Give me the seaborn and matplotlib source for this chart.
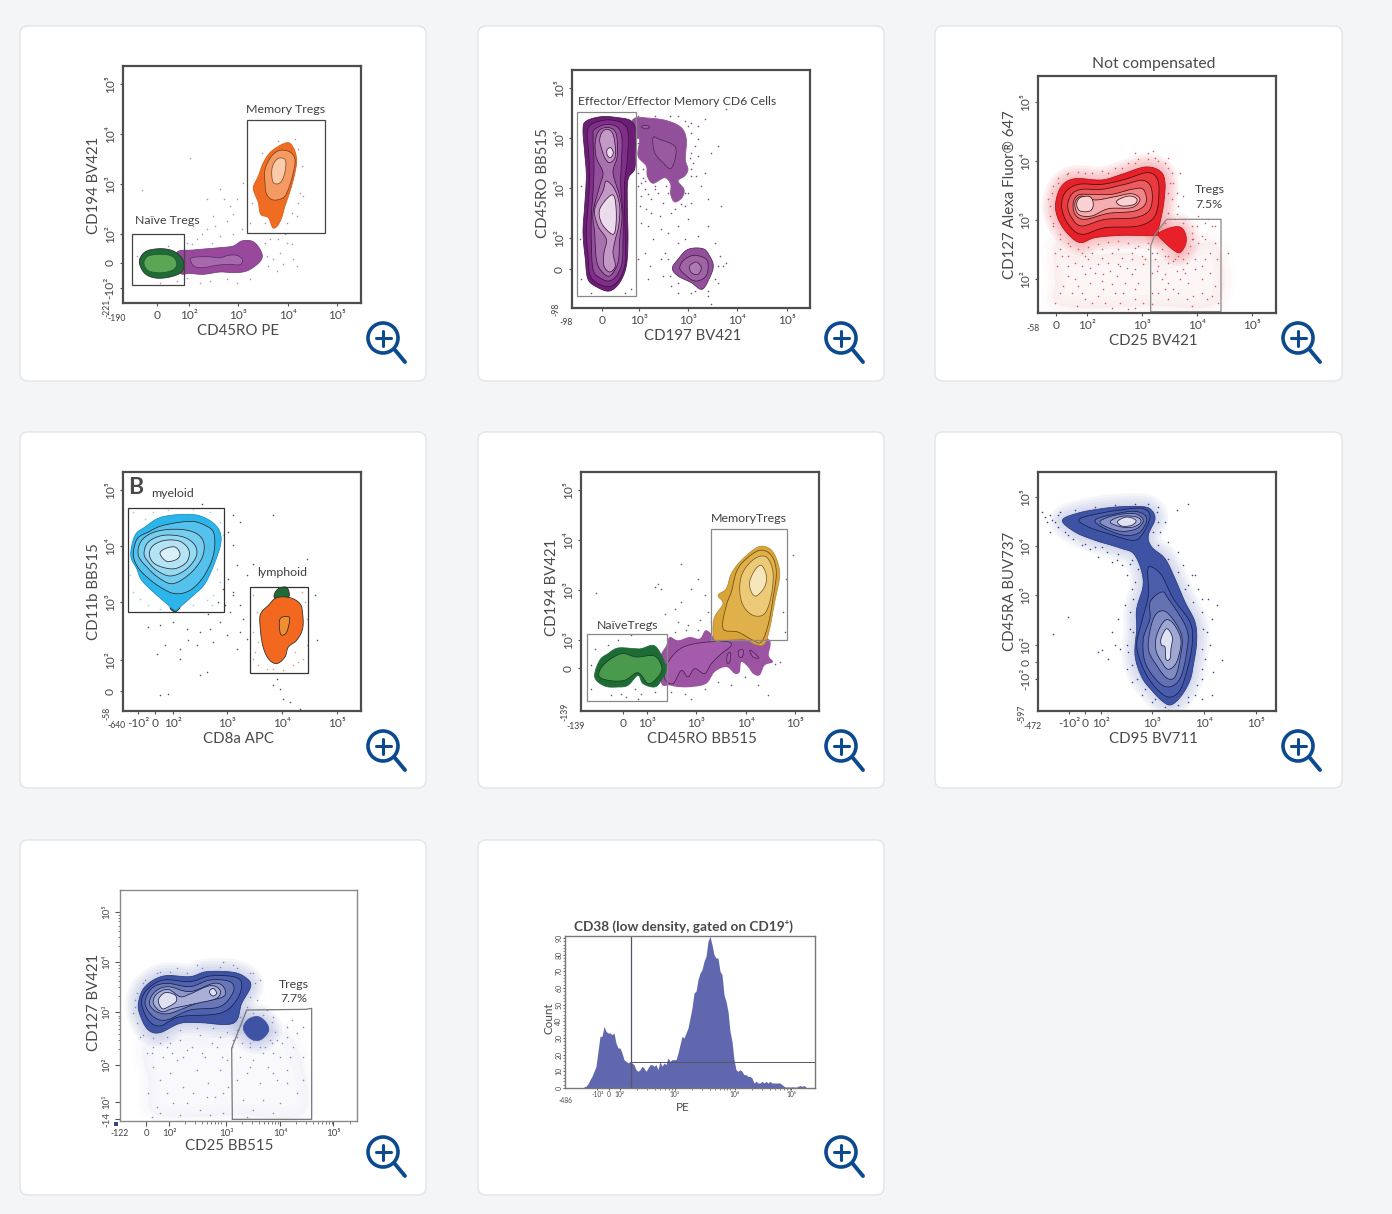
import numpy as np
import pandas as pd
import matplotlib
matplotlib.use('Agg')
import matplotlib.pyplot as plt
from matplotlib.patches import FancyBboxPatch, Circle, Rectangle
import seaborn as sns

# all outlines and dots are in display channels (y runs downwards)

# panel 1
p1_xticks = [411, 508, 655, 803, 951]
p1_xlabels = ['0', '10²', '10³', '10⁴', '10⁵']
p1_yticks = [175, 325, 475, 625, 710, 787]
p1_ylabels = ['10⁵', '10⁴', '10³', '10²', '0', '-10²']
p1_purple_out = [(470,680),(520,672),(600,665),(640,660),(665,645),(695,645),(715,662),(727,690),(715,712),(680,735),(640,740),(600,738),(550,745),(510,742),(480,740)]
p1_purple_in = [(515,695),(560,692),(600,695),(625,688),(650,688),(667,700),(660,716),(625,715),(590,718),(550,725),(525,722),(513,708)]
p1_green_out = [(358,710),(365,688),(385,673),(425,668),(460,675),(485,695),(492,720),(480,742),(440,755),(400,755),(372,740)]
p1_green_in = [(372,708),(385,690),(420,685),(455,690),(470,710),(462,730),(430,740),(395,738),(378,728)]
p1_orange_out = [(700,483),(715,450),(730,410),(755,375),(800,350),(820,365),(830,400),(825,440),(812,490),(795,540),(785,575),(772,600),(758,605),(745,575),(722,565),(715,530),(705,505)]
p1_orange_mid = [(735,470),(735,430),(755,390),(780,373),(810,378),(825,400),(820,440),(805,490),(790,515),(760,522),(740,505)]
p1_orange_in = [(755,440),(760,415),(775,397),(795,400),(797,425),(790,455),(778,472),(760,470)]
p1_dots = [(510,395),(365,493),(600,490),(612,520),(630,540),(640,565),(620,585),(585,600),(560,610),(545,625),(530,640),(600,630),(640,625),(665,610),(580,570),(650,520),(670,470),(560,520),(520,600),(500,650),
           (740,690),(760,700),(780,680),(800,650),(815,655),(820,700),(830,720),(745,720),(770,735),(790,715),(735,650),(750,640),(775,640),(795,625),(690,760),(650,770),(620,760),(570,765),(540,770),(500,755),
           (835,370),(845,420),(840,500),(825,340),(835,530),(815,560),(800,590),(695,530),(690,590),(735,590),(725,380),(775,345),(850,510),(830,570),(445,660),(420,770),(470,765),(350,690),(515,655),(575,650)]

# panel 2
p2_xticks = [373, 482, 630, 778, 926]
p2_xlabels = ['0', '10³', '10³', '10⁴', '10⁵']
p2_yticks = [185, 335, 485, 635, 730]
p2_ylabels = ['10⁵', '10⁴', '10³', '10²', '0']
p2_l1 = [(315,310),(325,285),(370,272),(420,275),(460,285),(475,320),(472,380),(470,430),(450,460),(448,540),(450,640),(445,720),(425,770),(395,795),(360,785),(330,760),(322,700),(315,620),(320,540),(325,450),(320,380)]
p2_l2 = [(328,320),(340,295),(385,282),(430,290),(450,320),(448,400),(440,470),(440,560),(442,660),(440,720),(420,765),(392,782),(355,770),(335,745),(330,690),(325,620),(330,540),(335,450),(332,380)]
p2_l3 = [(345,330),(350,310),(385,295),(420,305),(432,340),(430,410),(428,480),(435,560),(435,640),(432,710),(415,750),(392,765),(365,755),(345,730),(340,650),(340,570),(345,500),(348,420)]
p2_l4 = [(352,345),(365,312),(395,305),(415,325),(418,390),(405,440),(425,510),(432,570),(425,640),(420,710),(395,750),(370,735),(355,700),(350,620),(345,560),(365,480),(375,440),(355,395)]
p2_l5a = [(365,340),(375,315),(395,312),(408,335),(412,390),(395,410),(380,395),(370,365)]
p2_l5b = [(385,465),(410,490),(425,540),(422,600),(412,640),(405,680),(412,720),(395,738),(378,720),(378,680),(385,640),(360,600),(350,550),(375,495)]
p2_l6a = [(395,510),(410,515),(415,570),(410,620),(395,620),(370,590),(365,550)]
p2_l6b = [(387,372),(398,365),(406,380),(398,395),(388,388)]
p2_right = [(465,280),(520,277),(570,285),(610,305),(625,340),(622,400),(630,430),(620,450),(600,465),(618,490),(612,515),(590,528),(578,505),(578,475),(560,455),(525,472),(508,450),(505,420),(480,390),(485,340),(470,335)]
p2_right_in = [(525,335),(545,340),(590,360),(592,395),(578,428),(555,410),(530,380)]
p2_right_tiny = [(490,302),(503,298),(515,303),(503,309)]
p2_low_out = [(583,727),(600,700),(630,670),(675,668),(695,690),(706,720),(695,755),(672,790),(640,770),(600,750)]
p2_low_mid = [(605,725),(620,700),(650,688),(685,700),(690,730),(680,755),(650,765),(620,745)]
p2_low_in = [(635,720),(655,708),(670,725),(660,745),(640,740)]
p2_dots = [(600,270),(640,290),(660,300),(680,280),(745,250),(640,320),(650,360),(660,390),(645,410),(640,450),(655,450),(680,440),(670,480),(630,500),(640,530),(700,380),(720,360),(690,520),(730,540),
           (500,490),(520,520),(505,550),(490,510),(540,500),(555,530),(545,570),(510,600),(525,640),(490,590),(580,560),(600,600),(570,620),(630,580),(660,630),(710,650),(690,600),(500,680),(515,720),(550,700),(510,760),
           (555,750),(580,780),(600,800),(640,800),(690,810),(700,835),(720,770),(735,720),(745,710),(725,690),(560,680),(480,480),(480,700),(460,790),(440,800),(340,800),(310,760),(305,640),(310,480),(485,540),
           (520,560),(570,500),(590,550),(620,540),(480,440),(495,455),(530,480),(610,420),(640,380),(660,340),
           (480,350),(490,370),(500,400),(495,430),(500,465),(530,490),(565,480),(610,535),(620,500),(640,430),(635,395),(630,300),(620,285),(575,270),(530,270),(480,270),(490,470),(510,505),(550,610),(600,650),
           (620,640),(570,700),(720,720),(710,760),(690,795),(650,795),(600,770),(575,750)]

# panel 3
p3_xticks = [362, 457, 622, 787, 951]
p3_xlabels = ['0', '10²', '10³', '10⁴', '10⁵']
p3_yticks = [228, 405, 583, 760]
p3_ylabels = ['10⁵', '10⁴', '10³', '10²']
p3_gate = [(647,857),(647,660),(660,625),(695,580),(858,580),(858,857),(647,857)]
p3_haze_wide = [(360,650),(420,690),(560,680),(680,700),(840,650),(850,830),(640,840),(380,840),(360,760)]
p3_l1 = [(362,530),(380,480),(420,458),(500,462),(560,445),(630,423),(675,435),(690,470),(685,540),(670,610),(665,628),(560,628),(480,635),(435,650),(395,620),(368,575)]
p3_l2 = [(380,545),(390,500),(430,475),(500,475),(570,460),(635,440),(665,455),(672,500),(660,570),(610,600),(510,605),(440,625),(400,595)]
p3_l3 = [(398,540),(410,505),(440,490),(500,490),(570,475),(625,463),(650,490),(645,550),(600,575),(510,580),(440,600),(410,575)]
p3_l4 = [(415,530),(430,507),(470,505),(530,505),(590,490),(625,490),(633,530),(600,555),(520,562),(450,580),(420,565)]
p3_l5 = [(420,530),(440,510),(480,522),(540,512),(590,503),(615,520),(590,545),(520,548),(470,570),(430,565)]
p3_l6a = [(425,535),(435,515),(465,512),(475,535),(465,555),(435,555)]
p3_l6b = [(545,525),(580,510),(605,518),(598,535),(560,540)]
p3_blob = [(670,625),(700,607),(735,603),(752,625),(752,655),(735,680),(715,672),(690,650)]
p3_dots = [(380,690),(400,720),(420,760),(440,800),(425,840),(460,700),(480,740),(505,790),(470,830),(520,710),(545,750),(565,800),(530,845),(590,700),(610,770),(625,830),(580,850),(660,700),(680,760),(700,820),
           (720,700),(735,760),(755,820),(780,700),(790,650),(810,640),(830,600),(845,700),(840,780),(800,760),(775,810),(815,820),(850,830),(770,620),(785,600),(750,580),(720,580),(700,560),(730,540),(745,510),
           (700,500),(715,470),(710,440),(690,410),(660,395),(640,382),(610,398),(580,410),(540,425),(500,435),(450,440),(400,440),(370,470),(350,500),(345,540),(355,590),(375,640),(405,660),(440,680),(500,670),
           (550,670),(600,665),(640,650),(680,670),(700,690),(760,680),(770,640),(665,735),(690,745),(715,790),(625,715),(590,745),(555,720),(505,745),(450,745),(410,800),(385,780),(365,720),(360,830),(490,810),
           (540,800),(600,820),(650,800),(690,790),(745,730),(760,770),(800,720),(825,680),(810,590),(880,680),(600,380),(655,375),(700,395),(735,440),(725,500),
           (355,480),(368,455),(395,445),(430,438),(470,442),(520,440),(560,425),(600,410),(640,400),(670,405),(700,425),(705,470),(710,520),(700,560),(690,590),(725,565),(745,590),(770,600),(775,640),(765,660),
           (745,700),(715,705),(690,690),(665,680),(640,670),(610,660),(580,650),(550,645),(520,648),(490,655),(460,662),(430,668),(400,650),(375,625),(355,600),(345,570),(340,520),
           (450,690),(470,680),(500,695),(530,680),(560,695),(590,680),(620,690),(650,680),(400,690),(375,670),(360,680),(420,710),(440,720),(465,725),(490,715),(525,735),(550,715),(575,725),(600,730),(630,700),
           (650,740),(670,720),(700,710),(730,690),(755,710),(780,730),(810,700),(825,740),(840,650),(800,630),(820,580),(790,570),(750,740),(725,735),(700,770),(670,800),(650,835),(600,790),(570,770),(530,775),
           (500,765),(465,770),(430,780),(400,750),(375,800),(450,820),(510,830),(555,830),(600,845),(730,800),(770,840),(800,800),(830,810),(840,600)]

# panel 4
p4_xticks = [355, 405, 458, 622, 787, 951]
p4_xlabels = ['-10²', '0', '10²', '10³', '10⁴', '10⁵']
p4_yticks = [175, 342, 510, 683, 778]
p4_ylabels = ['10⁵', '10⁴', '10³', '10²', '0']
p4_l1 = [(332,370),(345,310),(375,285),(425,255),(510,247),(560,260),(595,290),(603,330),(585,390),(555,455),(520,490),(480,525),(465,535),(440,515),(400,480),(365,445),(350,410)]
p4_l2 = [(340,365),(352,320),(385,300),(430,280),(510,268),(555,280),(582,305),(580,370),(550,435),(510,475),(465,485),(420,465),(375,430),(350,400)]
p4_l3 = [(355,370),(365,325),(410,298),(480,292),(530,305),(552,335),(545,380),(510,425),(460,455),(420,440),(385,410)]
p4_l4 = [(372,365),(385,330),(430,310),(490,315),(525,340),(528,375),(495,415),(450,432),(410,415),(385,390)]
p4_l5 = [(388,365),(400,340),(435,325),(480,328),(507,355),(500,390),(465,410),(425,405),(398,390)]
p4_l6 = [(420,365),(435,350),(465,345),(480,365),(470,382),(440,388)]
p4_tip = [(450,528),(465,522),(480,526),(465,540)]
p4_orange_out = [(720,580),(722,545),(745,520),(770,497),(810,497),(840,515),(848,545),(848,590),(830,625),(805,645),(795,675),(770,695),(745,680),(728,640)]
p4_green_top = [(762,490),(775,470),(800,466),(808,490),(795,505),(770,505)]
p4_orange_in = [(778,572),(785,556),(808,556),(805,585),(797,605),(782,607)]
p4_dots_dark = [(545,215),(640,250),(660,270),(625,300),(640,340),(650,400),(625,440),(610,470),(640,490),(660,520),(630,540),(600,570),(570,590),(540,600),(500,590),(460,570),(420,580),(385,585),(435,640),(480,650),
                (410,665),(530,640),(580,630),(620,610),(660,600),(650,650),(560,720),(540,730),(480,680),(420,790),(445,785),(760,250),(700,395),(680,430),(860,380),(885,490),(890,625),(770,740),(780,770),(790,800),
                (760,760),(810,810),(840,830),(640,480),(615,520),(595,510),(565,545),(505,625),(670,560),(680,620)]
p4_dots_blue = [(340,240),(400,240),(445,235),(520,232),(570,240),(600,270),(610,310),(340,480),(360,500),(385,520),(420,530),(520,520),(560,505),(580,490),(600,450),(330,430),(410,265),(375,260),(590,410),(575,520)]
p4_dots_orange = [(700,490),(710,540),(700,600),(705,660),(715,700),(740,710),(790,715),(820,700),(850,680),(860,640),(855,510),(845,480),(825,660),(715,630),(700,680),(760,710),(835,690),(860,560)]

# panel 5
p5_xticks = [436, 508, 655, 803, 951]
p5_xlabels = ['0', '10³', '10³', '10⁴', '10⁵']
p5_yticks = [175, 325, 475, 625, 708]
p5_ylabels = ['10⁵', '10⁴', '10³', '10³', '0']
p5_purple = [(545,680),(565,640),(575,615),(600,625),(635,615),(665,620),(682,595),(700,605),(712,620),(760,620),(870,620),(872,670),(885,690),(860,700),(845,730),(825,725),(810,705),(790,690),(785,720),(770,725),(745,705),(710,720),(685,755),(640,765),(600,765),(575,760),(550,755)]
p5_purple_in = [(565,700),(600,655),(650,635),(740,628),(760,640),(730,665),(700,695),(680,725),(650,710),(630,735),(610,715),(585,755),(560,740)]
p5_purple_s1 = [(748,668),(758,663),(755,690),(747,692)]
p5_purple_s2 = [(783,655),(796,655),(793,675),(782,672)]
p5_purple_s3 = [(815,655),(828,662),(842,678),(825,675)]
p5_green_out = [(350,735),(365,685),(390,665),(420,648),(470,650),(490,650),(525,640),(545,660),(565,710),(550,745),(530,765),(495,755),(480,730),(450,760),(420,765),(380,762)]
p5_green_in = [(362,730),(380,695),(430,665),(475,675),(530,672),(552,710),(535,740),(510,755),(480,722),(440,745),(390,745)]
p5_gold_out = [(708,622),(708,560),(735,515),(720,490),(745,470),(760,425),(790,385),(840,345),(875,350),(895,380),(905,430),(890,510),(875,590),(860,635),(835,638),(800,622),(760,624),(735,626)]
p5_gold_mid = [(735,590),(745,520),(760,480),(775,420),(800,385),(845,355),(880,370),(895,420),(885,500),(870,580),(850,630),(825,625),(780,600)]
p5_gold_l2 = [(785,470),(795,420),(830,380),(865,375),(885,420),(880,490),(860,545),(825,550),(795,520)]
p5_gold_l3 = [(815,450),(830,415),(850,400),(865,430),(860,465),(835,492),(820,480)]
p5_dots = [(540,455),(550,470),(530,465),(355,483),(610,395),(680,490),(660,440),(640,470),(610,510),(590,530),(560,545),(520,570),(600,570),(630,580),(665,565),(690,540),(660,595),(625,595),(700,570),(590,600),
           (460,610),(420,625),(390,640),(350,650),(340,700),(340,770),(400,790),(430,785),(470,770),(490,785),(530,780),(580,780),(620,785),(680,770),(720,750),(760,760),(800,735),(840,760),(870,790),(850,710),
           (890,695),(905,690),(915,540),(925,440),(945,370),(920,600),(480,800),(445,795),(700,730),(640,800)]

# panel 6
p6_xticks = [403, 450, 497, 652, 807, 962]
p6_xlabels = ['-10²', '0', '10²', '10³', '10⁴', '10⁵']
p6_yticks = [195, 343, 490, 640, 690, 742]
p6_ylabels = ['10⁵', '10⁴', '10³', '10²', '0', '-10²']
p6_out = [(382,265),(430,243),(500,230),(560,224),(625,224),(650,235),(660,262),(640,310),(650,345),(690,380),(720,440),(750,510),(780,570),(785,630),(775,700),(765,745),(740,790),(710,818),(685,810),(650,775),(620,735),(600,670),(605,590),(605,530),(625,450),(600,370),(555,348),(480,325),(420,300)]
p6_l2 = [(638,415),(650,405),(680,430),(715,500),(765,570),(772,630),(760,700),(735,775),(700,795),(660,765),(625,710),(605,640),(620,570),(640,490)]
p6_l3 = [(645,510),(680,480),(700,500),(755,590),(755,660),(735,740),(700,765),(665,745),(630,690),(625,620),(645,560)]
p6_l4 = [(650,575),(670,540),(700,545),(740,610),(735,680),(720,735),(695,738),(665,700),(640,650)]
p6_l5 = [(665,610),(690,565),(715,575),(738,625),(725,690),(700,712),(680,690),(663,655)]
p6_l6 = [(678,620),(695,590),(712,615),(708,650),(705,680),(693,682),(690,645),(680,640)]
p6_u2 = [(432,262),(490,245),(570,232),(625,230),(645,255),(620,310),(590,325),(520,305),(460,285)]
p6_u3 = [(480,265),(530,248),(600,238),(635,258),(615,300),(570,310),(510,290)]
p6_u4 = [(495,268),(540,250),(600,245),(625,265),(605,290),(560,298),(515,285)]
p6_u5 = [(525,270),(560,253),(605,255),(618,270),(595,285),(560,285)]
p6_u6 = [(548,268),(575,255),(603,265),(590,280),(560,282)]
p6_dots = [(320,240),(335,270),(350,265),(375,240),(345,300),(355,605),(400,555),(400,310),(440,340),(465,350),(490,375),(530,390),(560,400),(575,430),(590,470),(570,520),(550,560),(530,600),(500,655),(520,680),
           (540,640),(575,710),(590,750),(620,790),(650,810),(700,835),(760,810),(800,800),(830,790),(835,720),(860,685),(825,640),(815,600),(830,560),(845,520),(800,500),(790,470),(770,430),(745,400),(730,360),
           (700,330),(675,300),(690,270),(760,215),(725,235),(670,225),(480,345),(515,360),(545,385),(585,395),(595,600),(580,660),(800,740),(780,790),(810,680),(820,500),(780,430),(760,460),(555,650),(490,660),
           (330,255),(345,250),(360,270),(370,285),(390,300),(415,320),(450,335),(500,345),(550,365),(590,385),(610,410),(600,450),(595,500),(585,540),(585,590),(575,640),(590,700),(605,740),(630,770),(660,800),
           (690,825),(730,820),(760,795),(785,760),(800,710),(800,650),(805,590),(800,540),(775,510),(750,470),(730,420),(700,380),(670,340),(655,300),(670,270),(665,240),(640,215),(600,215),(540,218),(480,225),(420,235),(370,250)]

# panel 7
p7_xticks = [378, 447, 618, 780, 940]
p7_xlabels = ['0', '10²', '10³', '10⁴', '10⁵']
p7_yticks = [215, 365, 515, 675, 785, 838]
p7_ylabels = ['10⁵', '10⁴', '10³', '10²', '10¹', '-14']
p7_gate = [(637,838),(635,625),(680,510),(858,508),(875,505),(875,838),(637,838)]
p7_haze_wide = [(380,610),(560,590),(770,570),(840,650),(850,820),(640,825),(410,825),(385,720)]
p7_l1 = [(355,490),(375,440),(430,408),(510,410),(560,395),(640,397),(680,415),(692,440),(665,490),(640,550),(540,548),(480,550),(420,578),(385,570),(362,530)]
p7_l2 = [(365,490),(380,450),(430,420),(510,425),(570,408),(640,410),(665,430),(650,480),(600,520),(480,530),(420,558),(385,540)]
p7_l3 = [(375,490),(395,445),(440,430),(510,440),(570,420),(630,425),(640,455),(600,500),(510,510),(440,540),(400,530)]
p7_l4 = [(388,490),(405,455),(445,440),(510,455),(580,430),(610,440),(610,470),(530,490),(450,520),(410,515)]
p7_l5 = [(400,490),(410,462),(445,448),(480,470),(510,462),(570,437),(600,450),(590,475),(530,490),(460,505),(425,515)]
p7_l6a = [(415,480),(435,458),(465,465),(468,485),(440,503),(425,505)]
p7_l6b = [(568,455),(580,445),(590,460),(578,468)]
p7_blob = [(670,565),(685,538),(715,530),(740,550),(745,575),(720,600),(690,595)]
p7_dots = [(380,640),(400,680),(420,720),(385,760),(410,800),(440,620),(470,660),(450,700),(490,740),(460,790),(500,630),(530,690),(555,650),(520,760),(565,730),(540,810),(590,620),(600,690),(585,770),(620,660),
           (625,740),(610,820),(660,650),(680,700),(700,660),(720,730),(745,680),(670,780),(700,810),(760,640),(785,610),(800,590),(820,620),(770,720),(800,690),(830,760),(780,790),(850,650),(850,560),(815,540),
           (760,530),(740,510),(710,480),(720,420),(700,400),(640,375),(610,365),(530,375),(470,385),(420,395),(370,430),(345,480),(340,520),(360,590),(450,610),(640,600),(600,590),(650,570),(540,585),(480,600),
           (655,570),(690,620),(735,620),(750,600),(400,620),(395,830),(480,825),(570,825),(680,830),(760,820),
           (345,500),(350,460),(375,420),(410,400),(450,395),(500,398),(545,385),(600,380),(650,385),(690,400),(705,430),(690,470),(680,500),(660,530),(660,555),(700,520),(730,525),(755,545),(765,575),(755,610),
           (720,620),(690,610),(650,590),(620,575),(580,565),(530,565),(480,570),(440,590),(400,595),(370,585),(350,550),(420,610),(395,640),(430,650),(455,640),(490,650),(515,620),(545,640),(575,610),(605,650),
           (635,620),(665,610),(700,600),(730,640),(770,600),(800,560),(830,580),(780,650),(810,650),(690,680),(650,720),(610,760),(560,770),(500,790),(440,760),(420,820),(760,700),(730,780),(800,730),(850,720)]

# panel 8, histogram of counts in channel bins
p8_xticks = [358, 392, 425, 590, 770, 940]
p8_xlabels = ['-10²', '0', '10²', '10³', '10⁴', '10⁵']
p8_yticks = [0, 10, 20, 30, 40, 50, 60, 70, 80, 90]
p8_counts = [0.8, 1, 2.5, 5, 7, 10, 13, 22, 31, 31, 37, 34, 33, 33, 32, 33, 27, 24, 24, 21, 17, 16, 15, 16, 15, 14, 11, 10,
             11, 13, 12, 10, 12, 14, 14, 13, 14, 11, 16, 13, 15, 14, 18, 16, 17, 17, 17, 21, 26, 31, 30, 33, 36, 42, 48, 57,
             58, 65, 69, 71, 76, 79, 88, 91, 86, 80, 78, 78, 70, 68, 56, 52, 46, 34, 28, 17, 11, 10, 11, 10, 8, 8, 7, 7, 6,
             3, 4, 3, 3, 4, 3, 4, 3, 4, 3, 3, 3, 3, 3, 2, 1, 0.5, 0.7, 0.5, 0.7, 0.6, 0.5, 1, 1.5, 1, 1.5, 0.5]

sns.set_theme(style='white')
plt.rcParams['font.family'] = ['Lato', 'DejaVu Sans']
TXT = '#4a4a4a'
DARK = '#2a2a2a'

fig = plt.figure(figsize=(13.92, 12.14), dpi=100, facecolor='#f4f5f7')

# page layer in pixels
page = fig.add_axes([0, 0, 1, 1], zorder=0)
page.set_xlim(0, 1392)
page.set_ylim(1214, 0)
page.axis('off')


def card(x0, y0, x1, y1):
    page.add_patch(FancyBboxPatch((x0 + 6, y0 + 6), x1 - x0 - 12, y1 - y0 - 12, boxstyle='round,pad=6,rounding_size=8',
                                  fc='white', ec='#e2e4e8', lw=1))


def magnifier(cx, cy):
    page.add_patch(Circle((cx, cy), 15, fc='none', ec='#0b4a8f', lw=2.6))
    page.plot([cx - 7.5, cx + 7.5], [cy, cy], color='#0b4a8f', lw=2.2, solid_capstyle='round')
    page.plot([cx, cx], [cy - 7.5, cy + 7.5], color='#0b4a8f', lw=2.2, solid_capstyle='round')
    page.plot([cx + 12, cx + 22], [cy + 12, cy + 24], color='#0b4a8f', lw=2.8, solid_capstyle='round')


def panel(x0, y0, l, r, t, b, xticks, xlabels, yticks, ylabels, spine='#4d4d4d', lw=1.6):
    # limits are channels of the plot, x0/y0 place the panel on the page
    ax = fig.add_axes([(x0 + l / 3) / 1392, 1 - (y0 + b / 3) / 1214, (r - l) / 3 / 1392, (b - t) / 3 / 1214], zorder=2)
    ax.set_xlim(l, r)
    ax.set_ylim(b, t)
    ax.set_facecolor('white')
    for s in ax.spines.values():
        s.set_color(spine)
        s.set_linewidth(lw)
    ax.set_xticks(xticks, xlabels, fontsize=8.6, color=TXT)
    ax.set_yticks(yticks, ylabels, fontsize=8.6, color=TXT, rotation=90, va='center')
    ax.tick_params(axis='both', length=2.5, width=0.8, color='#555555', pad=2.5, bottom=True, left=True)
    return ax


def labels(ax, xlab, xpos, ylab, ypos, size=10.8):
    ax.text(xpos[0], xpos[1], xlab, fontsize=size, color=TXT, ha='center', va='center', clip_on=False)
    ax.text(ypos[0], ypos[1], ylab, fontsize=size, color=TXT, ha='center', va='center', rotation=90, clip_on=False)


def smooth(pts, n=6):
    # closed catmull-rom through the read points
    p = np.array(pts, dtype=float)
    out = []
    for i in range(len(p)):
        a, b, c, d = p[i - 1], p[i], p[(i + 1) % len(p)], p[(i + 2) % len(p)]
        for t in np.linspace(0, 1, n, endpoint=False):
            out.append(0.5 * (2 * b + (c - a) * t + (2 * a - 5 * b + 4 * c - d) * t ** 2 + (3 * b - a - 3 * c + d) * t ** 3))
    return np.array(out)


def blob(ax, pts, color, ec=DARK, lw=0.55, alpha=1):
    p = smooth(pts)
    ax.fill(p[:, 0], p[:, 1], fc=color, ec=ec, lw=lw, alpha=alpha)


def halo(ax, pts, color, widths, alpha):
    # soft rim of the densest dots, thick strokes stacked under the contour
    p = smooth(pts)
    for w in widths:
        ax.fill(p[:, 0], p[:, 1], fc=color, ec=color, lw=w, alpha=alpha, joinstyle='round')


def dots(ax, pts, color, s=1.3):
    xs, ys = zip(*pts)
    sns.scatterplot(x=list(xs), y=list(ys), s=s, color=color, linewidth=0, ax=ax, legend=False)


def gate(ax, x0, y0, x1, y1, color):
    ax.add_patch(Rectangle((x0, y0), x1 - x0, y1 - y0, fc='none', ec=color, lw=0.9, zorder=5))


def note(ax, x, y, s, size=8.9, **kw):
    ax.text(x, y, s, fontsize=size, color=kw.pop('color', '#3f3f3f'), ha='center', va='center', clip_on=False, **kw)


for box in [(20, 26, 426, 381), (478, 26, 884, 381), (935, 26, 1342, 381),
            (20, 432, 426, 788), (478, 432, 884, 788), (935, 432, 1342, 788),
            (20, 840, 426, 1195), (478, 840, 884, 1195)]:
    card(*box)
for c in [(383, 338), (841, 338), (1298, 338), (383, 746), (841, 746), (1298, 746), (383, 1152), (841, 1152)]:
    magnifier(*c)

# panel 1
ax = panel(20, 26, 308, 1022, 120, 830, p1_xticks, p1_xlabels, p1_yticks, p1_ylabels)
dots(ax, p1_dots, '#b98abb')
blob(ax, p1_purple_out, '#98499c', ec='#7a3a80')
blob(ax, p1_purple_in, '#a868ad', ec='#5e2c66')
blob(ax, p1_green_out, '#1f6b36')
blob(ax, p1_green_in, '#5aa655', ec='#1c5a2e')
blob(ax, p1_orange_out, '#ef6c22', ec='#d85c18')
blob(ax, p1_orange_mid, '#f49a62', ec='#7a4020')
blob(ax, p1_orange_in, '#fbcaa9', ec='#7a5030')
gate(ax, 337, 623, 492, 778, '#444444')
gate(ax, 680, 281, 914, 620, '#444444')
note(ax, 796, 250, 'Memory Tregs')
note(ax, 441, 582, 'Naïve Tregs')
note(ax, 290, 878, '-190', size=6.2)
note(ax, 262, 845, '-221', size=6.2, rotation=90)
labels(ax, 'CD45RO PE', (655, 915), 'CD194 BV421', (222, 478))

# panel 2
ax = panel(478, 26, 282, 996, 132, 845, p2_xticks, p2_xlabels, p2_yticks, p2_ylabels)
dots(ax, p2_dots, '#7d4a86')
blob(ax, p2_right, '#93509a', ec='#93509a')
blob(ax, p2_right_in, '#9a5aa0', ec='#4f2656')
blob(ax, p2_right_tiny, '#9a5aa0', ec='#4f2656')
blob(ax, p2_low_out, '#93509a', ec='#4f2656')
blob(ax, p2_low_mid, '#a064a6', ec='#3f2046')
blob(ax, p2_low_in, '#ad7ab2', ec='#3f2046')
blob(ax, p2_l1, '#6b1f74', ec='#4a1252')
blob(ax, p2_l2, '#7f2f87', ec='#3f1046')
blob(ax, p2_l3, '#93509a', ec='#3f1046')
blob(ax, p2_l4, '#a873ad', ec='#3f1046')
blob(ax, p2_l5a, '#c39ac6', ec='#3f1046')
blob(ax, p2_l5b, '#c39ac6', ec='#3f1046')
blob(ax, p2_l6a, '#ebdcec', ec='#3f1046')
blob(ax, p2_l6b, '#ebdcec', ec='#3f1046')
gate(ax, 297, 257, 475, 811, '#888888')
ax.text(300, 227, 'Effector/Effector Memory CD6 Cells', fontsize=8.8, color='#3f3f3f', va='center')
note(ax, 265, 890, '-98', size=6.2)
note(ax, 235, 850, '-98', size=6.2, rotation=90)
labels(ax, 'CD197 BV421', (645, 930), 'CD45RO BB515', (195, 470))

# panel 3
ax = panel(935, 26, 310, 1022, 150, 860, p3_xticks, p3_xlabels, p3_yticks, p3_ylabels)
halo(ax, p3_haze_wide, '#e8303a', [4, 10, 16], 0.012)
halo(ax, p3_l1, '#e8303a', [3, 7, 11, 15, 19], 0.07)
halo(ax, p3_blob, '#e8303a', [3, 7, 11, 15, 19], 0.06)
dots(ax, p3_dots, '#e4525c')
blob(ax, p3_l1, '#e8202a', ec='#a81820')
blob(ax, p3_l2, '#e83a3f', ec='#401010')
blob(ax, p3_l3, '#ec5b5e', ec='#401010')
blob(ax, p3_l4, '#f18587', ec='#401010')
blob(ax, p3_l5, '#f5aeb0', ec='#401010')
blob(ax, p3_l6a, '#fad2d5', ec='#401010')
blob(ax, p3_l6b, '#fad2d5', ec='#401010')
blob(ax, p3_blob, '#e8202a', ec='#c01820')
gx, gy = zip(*p3_gate)
ax.plot(gx, gy, color='#888888', lw=0.9)
note(ax, 826, 490, 'Tregs')
note(ax, 822, 536, '7.5%')
note(ax, 293, 908, '-58', size=6.2)
ax.text(657, 113, 'Not compensated', fontsize=11.3, color=TXT, ha='center', va='center')
labels(ax, 'CD25 BV421', (655, 945), 'CD127 Alexa Fluor® 647', (225, 505))

# panel 4
ax = panel(20, 432, 308, 1022, 120, 836, p4_xticks, p4_xlabels, p4_yticks, p4_ylabels)
dots(ax, p4_dots_dark, '#4d5a50')
dots(ax, p4_dots_blue, '#8fd0ea')
dots(ax, p4_dots_orange, '#ef9a70')
blob(ax, p4_tip, '#1f5a44')
blob(ax, p4_l1, '#2cb5ea', ec='#1c8cc0')
blob(ax, p4_l2, '#55c2ee')
blob(ax, p4_l3, '#75cdf0')
blob(ax, p4_l4, '#95d9f3')
blob(ax, p4_l5, '#b4e3f6')
blob(ax, p4_l6, '#d8f0fa')
blob(ax, p4_green_top, '#1f6b36')
blob(ax, p4_orange_out, '#f2681f')
blob(ax, p4_orange_in, '#f08f30')
gate(ax, 323, 228, 611, 541, '#333333')
gate(ax, 690, 466, 865, 723, '#333333')
ax.text(348, 165, 'B', fontsize=16.5, fontweight='bold', color=TXT, ha='center', va='center')
note(ax, 458, 185, 'myeloid')
note(ax, 787, 420, 'lymphoid')
note(ax, 290, 882, '-640', size=6.2)
note(ax, 262, 845, '-58', size=6.2, rotation=90)
labels(ax, 'CD8a APC', (655, 922), 'CD11b BB515', (222, 480))

# panel 5
ax = panel(478, 432, 308, 1022, 120, 836, p5_xticks, p5_xlabels, p5_yticks, p5_ylabels)
dots(ax, p5_dots, '#6b5a70')
blob(ax, p5_purple, '#9c53a2', ec='#9c53a2', lw=0)
blob(ax, p5_purple_in, '#a45bab', ec='#4a2050')
blob(ax, p5_purple_s1, '#a45bab', ec='#4a2050')
blob(ax, p5_purple_s2, '#a45bab', ec='#4a2050')
blob(ax, p5_purple_s3, '#a45bab', ec='#4a2050')
blob(ax, p5_green_out, '#1f6b36', ec='#1f6b36')
blob(ax, p5_green_in, '#4a9a4d', ec='#123f20')
blob(ax, p5_gold_out, '#d9a43a', ec='#b58a2f')
blob(ax, p5_gold_mid, '#e0b04a', ec='#6a4c10')
blob(ax, p5_gold_l2, '#ecca78', ec='#7a5c20')
blob(ax, p5_gold_l3, '#f7e6bc', ec='#7a5c20')
gate(ax, 326, 607, 568, 808, '#888888')
gate(ax, 700, 291, 928, 625, '#888888')
note(ax, 812, 261, 'MemoryTregs')
note(ax, 448, 581, 'NaïveTregs')
note(ax, 293, 884, '-139', size=6.2)
note(ax, 262, 840, '-139', size=6.2, rotation=90)
labels(ax, 'CD45RO BB515', (672, 922), 'CD194 BV421', (222, 465))

# panel 6
ax = panel(935, 432, 310, 1022, 120, 836, p6_xticks, p6_xlabels, p6_yticks, p6_ylabels)
halo(ax, p6_out, '#5568b4', [3, 7, 11, 15, 19], 0.055)
dots(ax, p6_dots, '#33458f')
blob(ax, p6_out, '#3f53a5', ec='#2b3a80')
for pts, col in [(p6_l2, '#4b5dab'), (p6_l3, '#6472b4'), (p6_l4, '#7f8bc1'), (p6_l5, '#a0a8d2'), (p6_l6, '#e0e2f1'),
                 (p6_u2, '#4b5dab'), (p6_u3, '#6472b4'), (p6_u4, '#8791c5'), (p6_u5, '#aeb4d9'), (p6_u6, '#e0e2f1')]:
    blob(ax, pts, col, ec='#15204f')
note(ax, 293, 884, '-472', size=6.2)
note(ax, 262, 845, '-597', size=6.2, rotation=90)
labels(ax, 'CD95 BV711', (655, 922), 'CD45RA BUV737', (225, 478))

# panel 7
ax = panel(20, 840, 300, 1010, 150, 842, p7_xticks, p7_xlabels, p7_yticks, p7_ylabels, spine='#8a8a8a', lw=1.0)
halo(ax, p7_haze_wide, '#5568b4', [4, 10, 16], 0.012)
halo(ax, p7_l1, '#5568b4', [3, 7, 11, 15, 19], 0.06)
halo(ax, p7_blob, '#5568b4', [3, 7, 11, 15, 19], 0.055)
dots(ax, p7_dots, '#7d8cc8')
blob(ax, p7_l1, '#3f53a5', ec='#2b3a80')
for pts, col in [(p7_l2, '#5062ad'), (p7_l3, '#6a77b6'), (p7_l4, '#8d96c7'), (p7_l5, '#a9afd6'), (p7_l6a, '#dfe1f0'), (p7_l6b, '#dfe1f0')]:
    blob(ax, pts, col, ec='#15204f')
blob(ax, p7_blob, '#3f53a5', ec='#3f53a5')
gx, gy = zip(*p7_gate)
ax.plot(gx, gy, color='#777777', lw=0.9)
note(ax, 822, 432, 'Tregs')
note(ax, 820, 475, '7.7%')
note(ax, 300, 880, '-122', size=6.2)
minor_x = [t + 163 * np.log10(m) for t in p7_xticks[1:] for m in range(2, 10)]
minor_y = [t - 155 * np.log10(m) for t in p7_yticks[1:4] for m in range(2, 10)]
ax.set_xticks(minor_x, minor=True)
ax.set_yticks(minor_y, minor=True)
ax.set_xlim(300, 1010)
ax.set_ylim(842, 150)
ax.tick_params(axis='both', which='minor', length=1.8, width=0.6, color='#666666', bottom=True, left=True)
ax.tick_params(axis='both', which='major', length=3.5, labelsize=7)
ax.add_patch(Rectangle((282, 847), 12, 12, fc='#33458f', ec='none', clip_on=False))
labels(ax, 'CD25 BB515', (627, 917), 'CD127 BV421', (222, 487))

# panel 8
ax = fig.add_axes([(478 + 262 / 3) / 1392, 1 - (840 + 744 / 3) / 1214, (1010 - 262) / 3 / 1392, (744 - 288) / 3 / 1214], zorder=2)
edges = 315 + 6 * np.arange(len(p8_counts) + 1)
hist_df = pd.DataFrame({'channel': (edges[:-1] + edges[1:]) / 2, 'count': p8_counts})
sns.histplot(data=hist_df, x='channel', weights='count', bins=edges.tolist(), element='poly', color='#6067ae', alpha=1, linewidth=0, ax=ax)
ax.set_xlabel('')
ax.set_ylabel('')
for s in ax.spines.values():
    s.set_color('#777777')
    s.set_linewidth(1.0)
ax.set_xticks(p8_xticks, p8_xlabels, fontsize=4.8, color=TXT)
ax.set_yticks(p8_yticks, [str(v) for v in p8_yticks], fontsize=5, color=TXT, rotation=90, va='center')
ax.set_yticks(np.arange(0, 91, 2), minor=True)
ax.set_xticks([t + 175 * np.log10(m) for t in p8_xticks[2:5] for m in range(2, 10)], minor=True)
ax.set_xlim(262, 1010)
ax.set_ylim(0, 91.2)
ax.tick_params(axis='both', which='major', length=1.5, width=0.7, color='#555555', pad=0.6, bottom=True, left=True)
ax.tick_params(axis='both', which='minor', length=1.2, width=0.5, color='#555555', bottom=True, left=True)
ax.axvline(458, color='#555566', lw=0.9)
ax.plot([458, 1010], [15.4, 15.4], color='#555566', lw=0.7)
ax.text(615, 97, 'CD38 (low density, gated on CD19⁺)', fontsize=9.8, color=TXT, ha='center', va='center', fontweight='bold', clip_on=False)
ax.text(263, -7.6, '-486', fontsize=4.8, color=TXT, ha='center', va='center', clip_on=False)
ax.text(615, -11.6, 'PE', fontsize=8.4, color=TXT, ha='center', va='center', clip_on=False)
ax.text(212, 42, 'Count', fontsize=8.4, color=TXT, ha='center', va='center', rotation=90, clip_on=False)

fig.savefig('out.png', dpi=100, facecolor=fig.get_facecolor())
